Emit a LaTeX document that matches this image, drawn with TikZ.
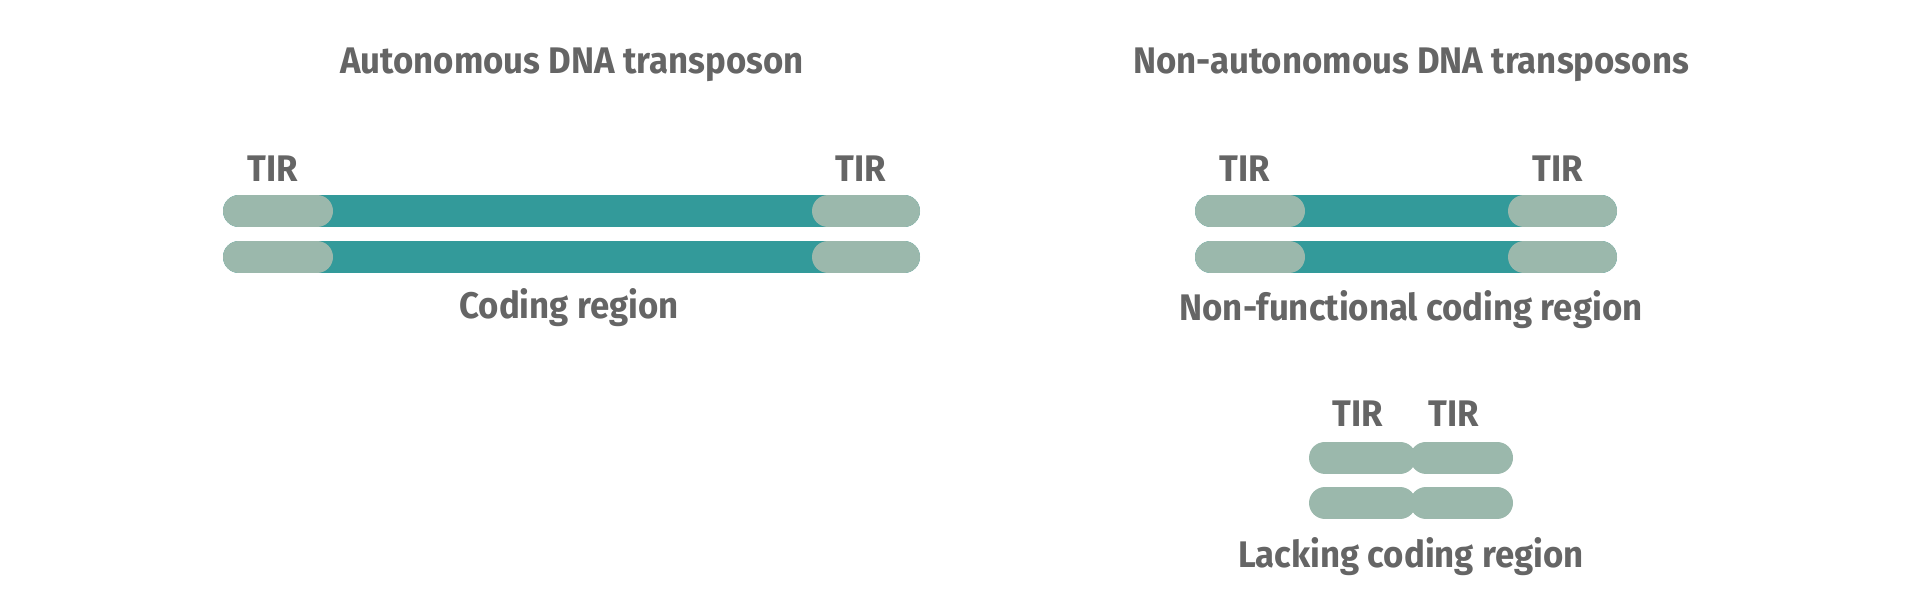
\documentclass[tikz,border=0pt]{standalone}
\usepackage{fontspec}
\setmainfont{Fira Sans}[FakeStretch=0.94]
\definecolor{teal1}{HTML}{339A9A}
\definecolor{tirc}{HTML}{9BB8AC}
\definecolor{txt}{HTML}{656565}
\begin{document}
\begin{tikzpicture}[x=1pt,y=-1pt,
  lbl/.style={anchor=base,inner sep=0pt,text=txt,font=\fontsize{37}{40}\selectfont\bfseries},
  coding/.style={line width=32pt,line cap=round,draw=teal1},
  tirbar/.style={line width=32pt,line cap=round,draw=tirc}]
\useasboundingbox (0,0) rectangle (1920,611);
% titles
\node[lbl] (t1) at (572,73) {Autonomous DNA transposon};
\node[lbl] (t2) at (1411,73) {Non-autonomous DNA transposons};
% left group
\foreach \yy in {211,257}{
  \draw[coding] (239,\yy) -- (904,\yy);
  \draw[tirbar] (239,\yy) -- (317,\yy);
  \draw[tirbar] (828,\yy) -- (904,\yy);
}
\node[lbl] (tirA) at (273,181) {TIR};
\node[lbl] (tirB) at (861,181) {TIR};
\node[lbl] (cr) at (569,318) {Coding region};
% right group
\foreach \yy in {211,257}{
  \draw[coding] (1211,\yy) -- (1601,\yy);
  \draw[tirbar] (1211,\yy) -- (1289,\yy);
  \draw[tirbar] (1524,\yy) -- (1601,\yy);
}
\node[lbl] (tirC) at (1245,181) {TIR};
\node[lbl] (tirD) at (1558,181) {TIR};
\node[lbl] (nf) at (1411,320) {Non-functional coding region};
% bottom group
\foreach \yy in {457.5,503}{
  \draw[tirbar] (1325,\yy) -- (1400,\yy);
  \draw[tirbar] (1426,\yy) -- (1497,\yy);
}
\node[lbl] (tirE) at (1358,426) {TIR};
\node[lbl] (tirF) at (1454,426) {TIR};
\node[lbl] (lk) at (1411,567) {Lacking coding region};
\end{tikzpicture}
\end{document}
